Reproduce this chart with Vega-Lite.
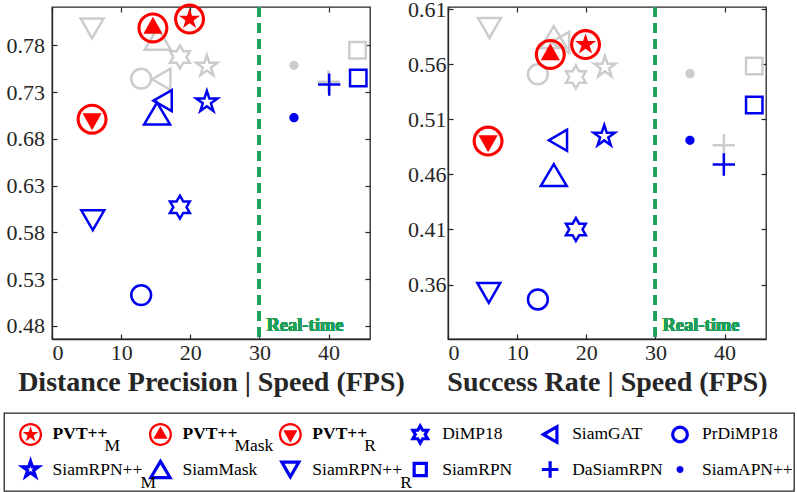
{
  "$schema": "https://vega.github.io/schema/vega-lite/v6.json",
  "background": "white",
  "padding": {"left": 3, "top": -3, "right": 0, "bottom": 0},
  "config": {
    "font": "Liberation Serif",
    "view": {"stroke": "#262626", "strokeWidth": 1.3},
    "axis": {
      "labelFont": "Liberation Serif", "labelFontSize": 22, "labelColor": "#262626",
      "titleFont": "Liberation Serif", "titleFontSize": 28, "titleFontWeight": "bold", "titleColor": "#262626",
      "gridColor": "#dedede", "gridWidth": 1, "domainColor": "#262626", "domainWidth": 1.3,
      "tickColor": "#262626", "tickSize": -5, "tickWidth": 1.2, "labelPadding": 8, "titlePadding": 5
    },
    "axisY": {"labelPadding": 12.5}
  },
  "datasets": {
    "points": [
      {"panel": "DP", "tracker": "SiamRPN++_R", "eval": "offline", "fps": 5.8, "score": 0.798},
      {"panel": "DP", "tracker": "SiamMask", "eval": "offline", "fps": 15.3, "score": 0.787},
      {"panel": "DP", "tracker": "DiMP18", "eval": "offline", "fps": 18.5, "score": 0.7675},
      {"panel": "DP", "tracker": "SiamRPN++_M", "eval": "offline", "fps": 22.4, "score": 0.7576},
      {"panel": "DP", "tracker": "PrDiMP18", "eval": "offline", "fps": 12.9, "score": 0.7443},
      {"panel": "DP", "tracker": "SiamGAT", "eval": "offline", "fps": 15.8, "score": 0.7437},
      {"panel": "DP", "tracker": "SiamAPN++", "eval": "offline", "fps": 35.0, "score": 0.7586},
      {"panel": "DP", "tracker": "DaSiamRPN", "eval": "offline", "fps": 40.0, "score": 0.741},
      {"panel": "DP", "tracker": "SiamRPN", "eval": "offline", "fps": 44.2, "score": 0.7747},
      {"panel": "DP", "tracker": "SiamRPN++_R", "eval": "online", "fps": 5.9, "score": 0.593},
      {"panel": "DP", "tracker": "DiMP18", "eval": "online", "fps": 18.5, "score": 0.607},
      {"panel": "DP", "tracker": "PrDiMP18", "eval": "online", "fps": 12.9, "score": 0.513},
      {"panel": "DP", "tracker": "SiamMask", "eval": "online", "fps": 15.2, "score": 0.707},
      {"panel": "DP", "tracker": "SiamGAT", "eval": "online", "fps": 16.0, "score": 0.7208},
      {"panel": "DP", "tracker": "SiamRPN++_M", "eval": "online", "fps": 22.4, "score": 0.7194},
      {"panel": "DP", "tracker": "SiamAPN++", "eval": "online", "fps": 35.0, "score": 0.7026},
      {"panel": "DP", "tracker": "DaSiamRPN", "eval": "online", "fps": 40.1, "score": 0.738},
      {"panel": "DP", "tracker": "SiamRPN", "eval": "online", "fps": 44.3, "score": 0.745},
      {"panel": "DP", "tracker": "PVT++_R", "eval": "PVT++", "fps": 5.8, "score": 0.701},
      {"panel": "DP", "tracker": "PVT++_Mask", "eval": "PVT++", "fps": 14.6, "score": 0.7985},
      {"panel": "DP", "tracker": "PVT++_M", "eval": "PVT++", "fps": 19.9, "score": 0.808},
      {"panel": "SR", "tracker": "SiamRPN++_R", "eval": "offline", "fps": 6.0, "score": 0.593},
      {"panel": "SR", "tracker": "SiamMask", "eval": "offline", "fps": 15.3, "score": 0.5848},
      {"panel": "SR", "tracker": "SiamGAT", "eval": "offline", "fps": 16.2, "score": 0.58},
      {"panel": "SR", "tracker": "PrDiMP18", "eval": "offline", "fps": 13.0, "score": 0.551},
      {"panel": "SR", "tracker": "DiMP18", "eval": "offline", "fps": 18.5, "score": 0.5485},
      {"panel": "SR", "tracker": "SiamRPN++_M", "eval": "offline", "fps": 22.7, "score": 0.5575},
      {"panel": "SR", "tracker": "SiamAPN++", "eval": "offline", "fps": 35.0, "score": 0.5515},
      {"panel": "SR", "tracker": "DaSiamRPN", "eval": "offline", "fps": 39.9, "score": 0.4866},
      {"panel": "SR", "tracker": "SiamRPN", "eval": "offline", "fps": 44.3, "score": 0.5585},
      {"panel": "SR", "tracker": "SiamRPN++_R", "eval": "online", "fps": 5.9, "score": 0.3524},
      {"panel": "SR", "tracker": "PrDiMP18", "eval": "online", "fps": 13.0, "score": 0.3464},
      {"panel": "SR", "tracker": "DiMP18", "eval": "online", "fps": 18.5, "score": 0.41},
      {"panel": "SR", "tracker": "SiamMask", "eval": "online", "fps": 15.3, "score": 0.4594},
      {"panel": "SR", "tracker": "SiamGAT", "eval": "online", "fps": 15.9, "score": 0.491},
      {"panel": "SR", "tracker": "SiamRPN++_M", "eval": "online", "fps": 22.6, "score": 0.4948},
      {"panel": "SR", "tracker": "SiamAPN++", "eval": "online", "fps": 35.0, "score": 0.491},
      {"panel": "SR", "tracker": "DaSiamRPN", "eval": "online", "fps": 39.9, "score": 0.469},
      {"panel": "SR", "tracker": "SiamRPN", "eval": "online", "fps": 44.3, "score": 0.523},
      {"panel": "SR", "tracker": "PVT++_R", "eval": "PVT++", "fps": 5.8, "score": 0.4903},
      {"panel": "SR", "tracker": "PVT++_Mask", "eval": "PVT++", "fps": 14.8, "score": 0.569},
      {"panel": "SR", "tracker": "PVT++_M", "eval": "PVT++", "fps": 19.9, "score": 0.578}
    ],
    "legend": [
      {"tracker": "PVT++_M", "base": "PVT++", "sub": "M", "legendRow": 1, "legendCol": 1, "eval": "PVT++"},
      {"tracker": "PVT++_Mask", "base": "PVT++", "sub": "Mask", "legendRow": 1, "legendCol": 2, "eval": "PVT++"},
      {"tracker": "PVT++_R", "base": "PVT++", "sub": "R", "legendRow": 1, "legendCol": 3, "eval": "PVT++"},
      {"tracker": "DiMP18", "base": "DiMP18", "sub": "", "legendRow": 1, "legendCol": 4, "eval": "online"},
      {"tracker": "SiamGAT", "base": "SiamGAT", "sub": "", "legendRow": 1, "legendCol": 5, "eval": "online"},
      {"tracker": "PrDiMP18", "base": "PrDiMP18", "sub": "", "legendRow": 1, "legendCol": 6, "eval": "online"},
      {"tracker": "SiamRPN++_M", "base": "SiamRPN++", "sub": "M", "legendRow": 2, "legendCol": 1, "eval": "online"},
      {"tracker": "SiamMask", "base": "SiamMask", "sub": "", "legendRow": 2, "legendCol": 2, "eval": "online"},
      {"tracker": "SiamRPN++_R", "base": "SiamRPN++", "sub": "R", "legendRow": 2, "legendCol": 3, "eval": "online"},
      {"tracker": "SiamRPN", "base": "SiamRPN", "sub": "", "legendRow": 2, "legendCol": 4, "eval": "online"},
      {"tracker": "DaSiamRPN", "base": "DaSiamRPN", "sub": "", "legendRow": 2, "legendCol": 5, "eval": "online"},
      {"tracker": "SiamAPN++", "base": "SiamAPN++", "sub": "", "legendRow": 2, "legendCol": 6, "eval": "online"}
    ]
  },
  "spacing": 15,
  "vconcat": [
    {
      "spacing": 0,
      "hconcat": [
        {
          "width": 1, "height": 332,
          "data": {"values": []},
          "mark": {"type": "point"},
          "encoding": {},
          "view": {"stroke": null}
        },
        {
          "width": 318, "height": 332,
          "data": {"name": "points"},
          "transform": [{"filter": "datum.panel === 'DP'"}],
          "resolve": {"axis": {"x": "independent", "y": "independent"}},
          "layer": [
            {
              "mark": {"type": "rule", "color": "#1ea05a", "strokeWidth": 3, "strokeDash": [10, 6]},
              "encoding": {"x": {"datum": 30, "type": "quantitative", "axis": {"orient": "top", "values": [0, 10, 20, 30, 40], "labels": false, "title": null, "grid": false, "domain": false}}}
            },
            {
              "mark": {"type": "text", "text": "Real-time", "align": "left", "baseline": "bottom", "dx": 7, "dy": -4, "fontWeight": "bold", "fontSize": 18.5, "color": "#1ea05a"},
              "encoding": {
                "x": {"datum": 30, "type": "quantitative", "axis": null},
                "y": {"datum": 0.4661, "type": "quantitative", "axis": {"orient": "right", "values": [0.48, 0.53, 0.58, 0.63, 0.68, 0.73, 0.78], "labels": false, "title": null, "grid": false, "domain": false}}
              }
            },
            {
              "transform": [{"filter": {"not": {"field": "tracker", "oneOf": ["PVT++_M", "PVT++_Mask", "PVT++_R", "SiamAPN++"]}}}],
              "mark": {"type": "point", "filled": false, "strokeWidth": 2.5, "size": 961, "opacity": 1},
              "encoding": {
                "x": {"field": "fps", "type": "quantitative", "scale": {"domain": [0, 46], "nice": false, "zero": false}, "axis": {"values": [0, 10, 20, 30, 40], "title": "Distance Precision | Speed (FPS)"}},
                "y": {"field": "score", "type": "quantitative", "scale": {"domain": [0.4661, 0.8209], "nice": false, "zero": false}, "axis": {"values": [0.48, 0.53, 0.58, 0.63, 0.68, 0.73, 0.78], "format": ".2f", "title": null}},
                "shape": {"field": "tracker", "type": "nominal", "legend": null, "scale": {
                  "domain": ["PVT++_M", "PVT++_Mask", "PVT++_R", "DiMP18", "SiamGAT", "PrDiMP18", "SiamRPN++_M", "SiamMask", "SiamRPN++_R", "SiamRPN", "DaSiamRPN", "SiamAPN++"],
                  "range": [
                    "M-1,0A1,1 0 1,1 1,0A1,1 0 1,1 -1,0ZM-0.8,0A0.8,0.8 0 1,0 0.8,0A0.8,0.8 0 1,0 -0.8,0ZM0,-0.72L0.162,-0.222L0.685,-0.222L0.262,0.085L0.423,0.583L0,0.275L-0.423,0.583L-0.262,0.085L-0.685,-0.222L-0.162,-0.222Z",
                    "M-1,0A1,1 0 1,1 1,0A1,1 0 1,1 -1,0ZM-0.8,0A0.8,0.8 0 1,0 0.8,0A0.8,0.8 0 1,0 -0.8,0ZM0,-0.72L0.62,0.38L-0.62,0.38Z",
                    "M-1,0A1,1 0 1,1 1,0A1,1 0 1,1 -1,0ZM-0.8,0A0.8,0.8 0 1,0 0.8,0A0.8,0.8 0 1,0 -0.8,0ZM0,0.72L0.62,-0.38L-0.62,-0.38Z",
                    "M0,-0.74L0.214,-0.37L0.641,-0.37L0.427,0L0.641,0.37L0.214,0.37L0,0.74L-0.214,0.37L-0.641,0.37L-0.427,0L-0.641,-0.37L-0.214,-0.37Z",
                    "M-0.59,0L0.59,-0.68L0.59,0.68Z",
                    "M-0.64,0A0.64,0.64 0 1,1 0.64,0A0.64,0.64 0 1,1 -0.64,0Z",
                    "M0,-0.72L0.162,-0.222L0.685,-0.222L0.262,0.085L0.423,0.583L0,0.275L-0.423,0.583L-0.262,0.085L-0.685,-0.222L-0.162,-0.222Z",
                    "M0,-0.71L0.84,0.71L-0.84,0.71Z",
                    "M0,0.64L-0.74,-0.64L0.74,-0.64Z",
                    "M-0.53,-0.53L0.53,-0.53L0.53,0.53L-0.53,0.53Z",
                    "M-0.72,0L0.72,0M0,-0.72L0,0.72",
                    "M-0.3,0A0.3,0.3 0 1,1 0.3,0A0.3,0.3 0 1,1 -0.3,0Z"
                  ]}},
                "color": {"field": "eval", "type": "nominal", "legend": null, "scale": {"domain": ["offline", "online", "PVT++"], "range": ["#cccccc", "#0000f0", "#ff0000"]}}
              }
            },
            {
              "transform": [{"filter": {"field": "tracker", "oneOf": ["PVT++_M", "PVT++_Mask", "PVT++_R", "SiamAPN++"]}}],
              "mark": {"type": "point", "filled": true, "strokeWidth": 0, "size": 961, "opacity": 1},
              "encoding": {
                "x": {"field": "fps", "type": "quantitative", "axis": null},
                "y": {"field": "score", "type": "quantitative", "axis": null},
                "shape": {"field": "tracker", "type": "nominal", "legend": null},
                "color": {"field": "eval", "type": "nominal", "legend": null}
              }
            }
          ]
        },
        {
          "width": 318, "height": 332,
          "data": {"name": "points"},
          "transform": [{"filter": "datum.panel === 'SR'"}],
          "resolve": {"axis": {"x": "independent", "y": "independent"}},
          "layer": [
            {
              "mark": {"type": "rule", "color": "#1ea05a", "strokeWidth": 3, "strokeDash": [10, 6]},
              "encoding": {"x": {"datum": 30, "type": "quantitative", "axis": {"orient": "top", "values": [0, 10, 20, 30, 40], "labels": false, "title": null, "grid": false, "domain": false}}}
            },
            {
              "mark": {"type": "text", "text": "Real-time", "align": "left", "baseline": "bottom", "dx": 7, "dy": -4, "fontWeight": "bold", "fontSize": 18.5, "color": "#1ea05a"},
              "encoding": {
                "x": {"datum": 30, "type": "quantitative", "axis": null},
                "y": {"datum": 0.3105, "type": "quantitative", "axis": {"orient": "right", "values": [0.31, 0.36, 0.41, 0.46, 0.51, 0.56, 0.61], "labels": false, "title": null, "grid": false, "domain": false}}
              }
            },
            {
              "transform": [{"filter": {"not": {"field": "tracker", "oneOf": ["PVT++_M", "PVT++_Mask", "PVT++_R", "SiamAPN++"]}}}],
              "mark": {"type": "point", "filled": false, "strokeWidth": 2.5, "size": 961, "opacity": 1},
              "encoding": {
                "x": {"field": "fps", "type": "quantitative", "scale": {"domain": [0, 46], "nice": false, "zero": false}, "axis": {"values": [0, 10, 20, 30, 40], "title": "Success Rate | Speed (FPS)"}},
                "y": {"field": "score", "type": "quantitative", "scale": {"domain": [0.3105, 0.6121], "nice": false, "zero": false}, "axis": {"values": [0.31, 0.36, 0.41, 0.46, 0.51, 0.56, 0.61], "format": ".2f", "title": null, "labelPadding": 7}},
                "shape": {"field": "tracker", "type": "nominal", "legend": null, "scale": {
                  "domain": ["PVT++_M", "PVT++_Mask", "PVT++_R", "DiMP18", "SiamGAT", "PrDiMP18", "SiamRPN++_M", "SiamMask", "SiamRPN++_R", "SiamRPN", "DaSiamRPN", "SiamAPN++"],
                  "range": [
                    "M-1,0A1,1 0 1,1 1,0A1,1 0 1,1 -1,0ZM-0.8,0A0.8,0.8 0 1,0 0.8,0A0.8,0.8 0 1,0 -0.8,0ZM0,-0.72L0.162,-0.222L0.685,-0.222L0.262,0.085L0.423,0.583L0,0.275L-0.423,0.583L-0.262,0.085L-0.685,-0.222L-0.162,-0.222Z",
                    "M-1,0A1,1 0 1,1 1,0A1,1 0 1,1 -1,0ZM-0.8,0A0.8,0.8 0 1,0 0.8,0A0.8,0.8 0 1,0 -0.8,0ZM0,-0.72L0.62,0.38L-0.62,0.38Z",
                    "M-1,0A1,1 0 1,1 1,0A1,1 0 1,1 -1,0ZM-0.8,0A0.8,0.8 0 1,0 0.8,0A0.8,0.8 0 1,0 -0.8,0ZM0,0.72L0.62,-0.38L-0.62,-0.38Z",
                    "M0,-0.74L0.214,-0.37L0.641,-0.37L0.427,0L0.641,0.37L0.214,0.37L0,0.74L-0.214,0.37L-0.641,0.37L-0.427,0L-0.641,-0.37L-0.214,-0.37Z",
                    "M-0.59,0L0.59,-0.68L0.59,0.68Z",
                    "M-0.64,0A0.64,0.64 0 1,1 0.64,0A0.64,0.64 0 1,1 -0.64,0Z",
                    "M0,-0.72L0.162,-0.222L0.685,-0.222L0.262,0.085L0.423,0.583L0,0.275L-0.423,0.583L-0.262,0.085L-0.685,-0.222L-0.162,-0.222Z",
                    "M0,-0.71L0.84,0.71L-0.84,0.71Z",
                    "M0,0.64L-0.74,-0.64L0.74,-0.64Z",
                    "M-0.53,-0.53L0.53,-0.53L0.53,0.53L-0.53,0.53Z",
                    "M-0.72,0L0.72,0M0,-0.72L0,0.72",
                    "M-0.3,0A0.3,0.3 0 1,1 0.3,0A0.3,0.3 0 1,1 -0.3,0Z"
                  ]}},
                "color": {"field": "eval", "type": "nominal", "legend": null, "scale": {"domain": ["offline", "online", "PVT++"], "range": ["#cccccc", "#0000f0", "#ff0000"]}}
              }
            },
            {
              "transform": [{"filter": {"field": "tracker", "oneOf": ["PVT++_M", "PVT++_Mask", "PVT++_R", "SiamAPN++"]}}],
              "mark": {"type": "point", "filled": true, "strokeWidth": 0, "size": 961, "opacity": 1},
              "encoding": {
                "x": {"field": "fps", "type": "quantitative", "axis": null},
                "y": {"field": "score", "type": "quantitative", "axis": null},
                "shape": {"field": "tracker", "type": "nominal", "legend": null},
                "color": {"field": "eval", "type": "nominal", "legend": null}
              }
            }
          ]
        }
      ]
    },
    {
      "width": 790, "height": 78,
      "data": {"name": "legend"},
      "encoding": {
        "x": {"field": "legendCol", "type": "ordinal", "axis": null, "scale": {"type": "point", "padding": 0.541, "align": 0.189}},
        "y": {"field": "legendRow", "type": "ordinal", "axis": null, "scale": {"type": "point", "padding": 0.614}}
      },
      "layer": [
        {
          "transform": [{"filter": {"not": {"field": "tracker", "oneOf": ["PVT++_M", "PVT++_Mask", "PVT++_R", "SiamAPN++"]}}}],
          "mark": {"type": "point", "filled": false, "strokeWidth": 3.2, "size": 529, "opacity": 1},
          "encoding": {
            "shape": {"field": "tracker", "type": "nominal", "legend": null, "scale": {
              "domain": ["PVT++_M", "PVT++_Mask", "PVT++_R", "DiMP18", "SiamGAT", "PrDiMP18", "SiamRPN++_M", "SiamMask", "SiamRPN++_R", "SiamRPN", "DaSiamRPN", "SiamAPN++"],
              "range": [
                "M-1,0A1,1 0 1,1 1,0A1,1 0 1,1 -1,0ZM-0.8,0A0.8,0.8 0 1,0 0.8,0A0.8,0.8 0 1,0 -0.8,0ZM0,-0.72L0.162,-0.222L0.685,-0.222L0.262,0.085L0.423,0.583L0,0.275L-0.423,0.583L-0.262,0.085L-0.685,-0.222L-0.162,-0.222Z",
                "M-1,0A1,1 0 1,1 1,0A1,1 0 1,1 -1,0ZM-0.8,0A0.8,0.8 0 1,0 0.8,0A0.8,0.8 0 1,0 -0.8,0ZM0,-0.72L0.62,0.38L-0.62,0.38Z",
                "M-1,0A1,1 0 1,1 1,0A1,1 0 1,1 -1,0ZM-0.8,0A0.8,0.8 0 1,0 0.8,0A0.8,0.8 0 1,0 -0.8,0ZM0,0.72L0.62,-0.38L-0.62,-0.38Z",
                "M0,-0.74L0.214,-0.37L0.641,-0.37L0.427,0L0.641,0.37L0.214,0.37L0,0.74L-0.214,0.37L-0.641,0.37L-0.427,0L-0.641,-0.37L-0.214,-0.37Z",
                "M-0.59,0L0.59,-0.68L0.59,0.68Z",
                "M-0.64,0A0.64,0.64 0 1,1 0.64,0A0.64,0.64 0 1,1 -0.64,0Z",
                "M0,-0.72L0.162,-0.222L0.685,-0.222L0.262,0.085L0.423,0.583L0,0.275L-0.423,0.583L-0.262,0.085L-0.685,-0.222L-0.162,-0.222Z",
                "M0,-0.71L0.84,0.71L-0.84,0.71Z",
                "M0,0.64L-0.74,-0.64L0.74,-0.64Z",
                "M-0.53,-0.53L0.53,-0.53L0.53,0.53L-0.53,0.53Z",
                "M-0.72,0L0.72,0M0,-0.72L0,0.72",
                "M-0.3,0A0.3,0.3 0 1,1 0.3,0A0.3,0.3 0 1,1 -0.3,0Z"
              ]}},
            "color": {"field": "eval", "type": "nominal", "legend": null, "scale": {"domain": ["offline", "online", "PVT++"], "range": ["#cccccc", "#1010ee", "#ff0000"]}}
          }
        },
        {
          "transform": [{"filter": {"field": "tracker", "oneOf": ["PVT++_M", "PVT++_Mask", "PVT++_R", "SiamAPN++"]}}],
          "mark": {"type": "point", "filled": true, "strokeWidth": 0, "size": 529, "opacity": 1},
          "encoding": {
            "shape": {"field": "tracker", "type": "nominal", "legend": null},
            "color": {"field": "eval", "type": "nominal", "legend": null}
          }
        },
        {
          "transform": [{"filter": "datum.base === 'PVT++'"}],
          "mark": {"type": "text", "align": "left", "baseline": "middle", "dx": 22, "fontSize": 17.5, "fontWeight": "bold", "color": "#000000"},
          "encoding": {"text": {"field": "base"}}
        },
        {
          "transform": [{"filter": "datum.base !== 'PVT++'"}],
          "mark": {"type": "text", "align": "left", "baseline": "middle", "dx": 22, "fontSize": 17.5, "color": "#000000"},
          "encoding": {"text": {"field": "base"}}
        },
        {
          "transform": [{"filter": "datum.base === 'PVT++'"}],
          "mark": {"type": "text", "align": "left", "baseline": "middle", "dx": 74, "dy": 12, "fontSize": 17.5, "color": "#000000"},
          "encoding": {"text": {"field": "sub"}}
        },
        {
          "transform": [{"filter": "datum.base === 'SiamRPN++'"}],
          "mark": {"type": "text", "align": "left", "baseline": "middle", "dx": 110, "dy": 13, "fontSize": 17.5, "color": "#000000"},
          "encoding": {"text": {"field": "sub"}}
        }
      ]
    }
  ]
}
